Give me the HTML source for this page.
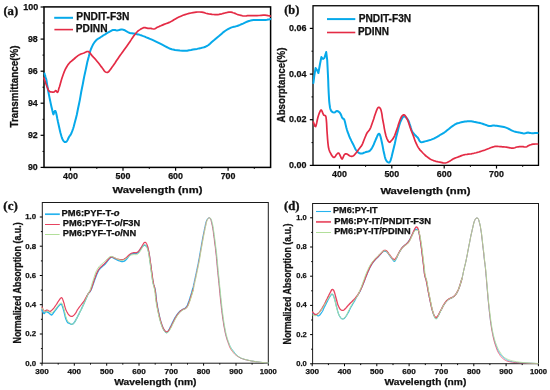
<!DOCTYPE html>
<html><head><meta charset="utf-8"><title>Figure</title>
<style>
html,body{margin:0;padding:0;background:#fff;}
svg{display:block;}
.t{font-family:"Liberation Sans",Arial,sans-serif;font-weight:bold;fill:#111;stroke:#111;stroke-width:0.25px;}
.s{font-family:"Liberation Serif","Times New Roman",serif;font-weight:bold;fill:#111;stroke:#111;stroke-width:0.3px;}
</style></head>
<body>
<svg width="550" height="390" viewBox="0 0 550 390">
<rect x="0" y="0" width="550" height="390" fill="#ffffff"/>
<rect x="44.0" y="6.9" width="226.60000000000002" height="160.5" fill="none" stroke="#000" stroke-width="1.5"/>
<line x1="40.6" y1="167.4" x2="44.0" y2="167.4" stroke="#000" stroke-width="1.2"/><line x1="40.6" y1="135.3" x2="44.0" y2="135.3" stroke="#000" stroke-width="1.2"/><line x1="40.6" y1="103.2" x2="44.0" y2="103.2" stroke="#000" stroke-width="1.2"/><line x1="40.6" y1="71.2" x2="44.0" y2="71.2" stroke="#000" stroke-width="1.2"/><line x1="40.6" y1="39.1" x2="44.0" y2="39.1" stroke="#000" stroke-width="1.2"/><line x1="40.6" y1="7.0" x2="44.0" y2="7.0" stroke="#000" stroke-width="1.2"/>
<line x1="42.5" y1="151.4" x2="44.0" y2="151.4" stroke="#000" stroke-width="1.0"/><line x1="42.5" y1="119.3" x2="44.0" y2="119.3" stroke="#000" stroke-width="1.0"/><line x1="42.5" y1="87.2" x2="44.0" y2="87.2" stroke="#000" stroke-width="1.0"/><line x1="42.5" y1="55.1" x2="44.0" y2="55.1" stroke="#000" stroke-width="1.0"/><line x1="42.5" y1="23.0" x2="44.0" y2="23.0" stroke="#000" stroke-width="1.0"/>
<line x1="70.5" y1="167.4" x2="70.5" y2="170.70000000000002" stroke="#000" stroke-width="1.2"/><line x1="123.0" y1="167.4" x2="123.0" y2="170.70000000000002" stroke="#000" stroke-width="1.2"/><line x1="175.6" y1="167.4" x2="175.6" y2="170.70000000000002" stroke="#000" stroke-width="1.2"/><line x1="228.1" y1="167.4" x2="228.1" y2="170.70000000000002" stroke="#000" stroke-width="1.2"/>
<line x1="96.8" y1="167.4" x2="96.8" y2="168.9" stroke="#000" stroke-width="1.0"/><line x1="149.3" y1="167.4" x2="149.3" y2="168.9" stroke="#000" stroke-width="1.0"/><line x1="201.8" y1="167.4" x2="201.8" y2="168.9" stroke="#000" stroke-width="1.0"/><line x1="254.3" y1="167.4" x2="254.3" y2="168.9" stroke="#000" stroke-width="1.0"/>
<text class="t" x="27.9" y="170.3" font-size="9.2" textLength="9.8" lengthAdjust="spacingAndGlyphs" >90</text>
<text class="t" x="27.9" y="138.2" font-size="9.2" textLength="9.8" lengthAdjust="spacingAndGlyphs" >92</text>
<text class="t" x="27.9" y="106.1" font-size="9.2" textLength="9.8" lengthAdjust="spacingAndGlyphs" >94</text>
<text class="t" x="27.9" y="74.1" font-size="9.2" textLength="9.8" lengthAdjust="spacingAndGlyphs" >96</text>
<text class="t" x="27.9" y="42.0" font-size="9.2" textLength="9.8" lengthAdjust="spacingAndGlyphs" >98</text>
<text class="t" x="23.2" y="9.8" font-size="9.2" textLength="15.0" lengthAdjust="spacingAndGlyphs" >100</text>
<text class="t" x="63.1" y="179.2" font-size="8.8" textLength="14.8" lengthAdjust="spacingAndGlyphs" >400</text>
<text class="t" x="115.6" y="179.2" font-size="8.8" textLength="14.8" lengthAdjust="spacingAndGlyphs" >500</text>
<text class="t" x="168.2" y="179.2" font-size="8.8" textLength="14.8" lengthAdjust="spacingAndGlyphs" >600</text>
<text class="t" x="220.7" y="179.2" font-size="8.8" textLength="14.8" lengthAdjust="spacingAndGlyphs" >700</text>
<text class="t" x="112.5" y="193.3" font-size="9.2" textLength="89.9" lengthAdjust="spacingAndGlyphs" >Wavelength (nm)</text>
<g transform="translate(18.4,127.4) rotate(-90) scale(1,1.15)"><text class="t" x="0" y="0" font-size="9.6" textLength="81.8" lengthAdjust="spacingAndGlyphs">Transmittance(%)</text></g>
<text class="s" x="3.4" y="14.6" font-size="11.6" textLength="14.8" lengthAdjust="spacingAndGlyphs">(a)</text>
<line x1="54.2" y1="17.8" x2="73" y2="17.8" stroke="#06a9ea" stroke-width="2.0"/>
<line x1="54.4" y1="29.6" x2="73" y2="29.6" stroke="#e42b45" stroke-width="1.6"/>
<text class="t" x="76.3" y="20.4" font-size="10" textLength="53.0" lengthAdjust="spacingAndGlyphs" >PNDIT-F3N</text>
<text class="t" x="75.8" y="31.9" font-size="10" textLength="31.7" lengthAdjust="spacingAndGlyphs" >PDINN</text>
<path d="M44.6,73.5 L44.7,74.0 L44.9,74.8 L45.2,75.6 L45.4,76.5 L45.6,77.2 L45.8,77.8 L46.1,78.7 L46.4,80.0 L46.7,82.0 L47.1,84.6 L47.6,87.3 L48.0,90.0 L48.5,92.5 L49.0,95.1 L49.5,97.6 L50.0,100.0 L50.5,102.4 L51.0,104.8 L51.5,107.0 L52.0,109.0 L52.4,110.8 L52.8,112.4 L53.1,113.7 L53.4,114.4 L53.6,114.3 L53.8,113.6 L54.0,112.7 L54.2,112.0 L54.5,111.5 L54.8,111.1 L55.1,110.9 L55.4,111.0 L55.7,111.6 L56.0,112.5 L56.3,113.7 L56.6,115.0 L56.9,116.5 L57.2,118.2 L57.6,120.0 L58.0,122.0 L58.5,124.2 L59.0,126.5 L59.5,128.8 L60.0,131.0 L60.5,133.0 L61.0,134.8 L61.5,136.5 L62.0,138.0 L62.5,139.2 L63.0,140.1 L63.5,140.8 L64.0,141.4 L64.4,141.8 L64.8,142.0 L65.2,142.0 L65.6,142.0 L65.9,141.9 L66.3,141.8 L66.6,141.5 L67.0,141.0 L67.5,140.2 L68.0,139.1 L68.5,138.0 L69.0,137.0 L69.5,136.2 L70.0,135.6 L70.5,134.9 L71.0,134.0 L71.5,133.0 L71.9,132.0 L72.4,130.7 L73.0,129.0 L73.7,126.7 L74.4,124.1 L75.2,121.1 L76.0,118.0 L76.8,114.8 L77.5,111.3 L78.2,107.7 L79.0,104.0 L79.8,100.1 L80.5,96.1 L81.2,92.0 L82.0,88.0 L82.8,84.1 L83.5,80.3 L84.2,76.6 L85.0,73.0 L85.8,69.4 L86.5,66.0 L87.2,62.6 L88.0,59.5 L88.8,56.6 L89.5,53.8 L90.2,51.2 L91.0,49.0 L91.8,47.1 L92.5,45.6 L93.2,44.2 L94.0,43.0 L94.8,41.9 L95.5,41.0 L96.2,40.3 L97.0,39.6 L97.7,39.0 L98.4,38.5 L99.2,38.1 L100.0,37.6 L100.9,37.0 L101.9,36.4 L102.9,35.7 L104.0,35.0 L105.2,34.3 L106.5,33.5 L107.8,32.7 L109.0,32.0 L110.1,31.4 L111.1,30.8 L112.0,30.3 L113.0,30.0 L114.0,30.0 L115.0,30.1 L116.0,30.3 L117.0,30.4 L118.0,30.3 L119.1,30.0 L120.1,29.7 L121.0,29.6 L121.8,29.6 L122.6,29.6 L123.3,29.8 L124.0,30.0 L124.8,30.3 L125.5,30.7 L126.2,31.2 L127.0,31.6 L127.7,32.0 L128.4,32.4 L129.2,32.7 L130.0,33.0 L130.9,33.2 L131.9,33.3 L133.0,33.5 L134.0,33.6 L135.0,33.8 L136.0,34.0 L137.0,34.2 L138.0,34.4 L139.0,34.6 L139.9,34.9 L140.9,35.2 L142.0,35.6 L143.3,36.1 L144.8,36.6 L146.3,37.3 L148.0,38.0 L149.9,38.8 L151.9,39.7 L154.0,40.6 L156.0,41.6 L158.1,42.6 L160.2,43.7 L162.2,44.7 L164.0,45.6 L165.4,46.4 L166.6,47.0 L167.8,47.6 L169.0,48.2 L170.3,48.7 L171.7,49.2 L173.2,49.6 L175.0,50.0 L177.3,50.3 L179.9,50.6 L182.5,50.8 L185.0,50.8 L187.1,50.7 L189.1,50.3 L191.0,50.0 L193.0,49.6 L195.0,49.2 L197.1,48.9 L199.1,48.4 L201.0,48.0 L202.6,47.6 L204.1,47.2 L205.5,46.7 L207.0,46.0 L208.5,45.0 L210.0,43.7 L211.5,42.3 L213.0,41.0 L214.5,39.8 L216.0,38.5 L217.5,37.2 L219.0,36.0 L220.5,34.7 L222.0,33.4 L223.5,32.1 L225.0,31.0 L226.5,30.0 L228.0,29.1 L229.5,28.3 L231.0,27.6 L232.5,27.1 L234.0,26.7 L235.5,26.4 L237.0,26.0 L238.5,25.5 L240.0,24.9 L241.5,24.2 L243.0,23.6 L244.5,22.9 L246.0,22.2 L247.5,21.5 L249.0,21.0 L250.5,20.6 L252.0,20.3 L253.5,20.1 L255.0,20.0 L256.5,19.9 L258.0,19.9 L259.5,20.0 L261.0,20.0 L262.6,20.0 L264.2,20.0 L265.7,19.9 L267.0,19.8 L268.1,19.6 L269.1,19.4 L269.8,19.2 L270.4,19.0" fill="none" stroke="#06a9ea" stroke-width="2.0" stroke-linejoin="round" stroke-linecap="round" />
<path d="M44.0,78.0 L44.4,79.3 L45.0,81.1 L45.7,83.2 L46.4,85.0 L47.0,86.7 L47.7,88.4 L48.3,89.9 L49.0,91.0 L49.7,91.6 L50.3,91.9 L51.0,91.9 L51.6,92.0 L52.2,92.1 L52.9,92.1 L53.4,92.1 L54.0,92.0 L54.5,91.7 L54.9,91.2 L55.4,90.8 L55.8,90.6 L56.3,91.0 L56.7,91.7 L57.2,92.3 L57.6,92.4 L58.0,91.7 L58.4,90.5 L58.7,89.1 L59.0,88.0 L59.3,87.2 L59.5,86.7 L59.7,86.0 L60.0,85.0 L60.4,83.6 L60.9,81.8 L61.4,79.9 L62.0,78.0 L62.7,76.0 L63.4,74.0 L64.2,71.9 L65.0,70.0 L65.9,68.2 L66.9,66.5 L67.9,64.9 L69.0,63.5 L70.2,62.2 L71.5,61.1 L72.8,60.0 L74.0,59.0 L75.1,58.0 L76.1,57.1 L77.1,56.3 L78.0,55.6 L78.8,55.1 L79.6,54.7 L80.3,54.3 L81.0,54.0 L81.8,53.7 L82.5,53.5 L83.2,53.3 L84.0,53.0 L84.8,52.6 L85.6,52.2 L86.3,51.8 L87.0,51.6 L87.5,51.5 L88.0,51.5 L88.5,51.6 L89.0,52.0 L89.7,52.7 L90.4,53.6 L91.2,54.6 L92.0,55.6 L92.9,56.6 L93.9,57.7 L95.0,58.8 L96.0,60.0 L97.0,61.2 L98.1,62.5 L99.1,63.8 L100.0,65.0 L100.8,66.1 L101.6,67.1 L102.3,68.1 L103.0,69.0 L103.6,69.8 L104.0,70.5 L104.5,71.1 L105.0,71.6 L105.6,72.0 L106.3,72.3 L107.0,72.5 L107.6,72.4 L108.2,72.1 L108.7,71.6 L109.3,70.9 L110.0,70.0 L110.9,68.9 L111.8,67.5 L112.9,66.0 L114.0,64.4 L115.2,62.7 L116.4,60.8 L117.7,58.9 L119.0,57.0 L120.2,55.2 L121.5,53.5 L122.8,51.7 L124.0,50.0 L125.3,48.2 L126.6,46.4 L127.8,44.7 L129.0,43.0 L130.1,41.4 L131.1,39.9 L132.0,38.4 L133.0,37.0 L134.0,35.6 L135.1,34.3 L136.1,33.0 L137.0,32.0 L137.8,31.2 L138.5,30.6 L139.2,30.1 L140.0,29.6 L140.9,29.0 L141.9,28.4 L143.0,27.9 L144.0,27.6 L145.0,27.6 L146.1,27.9 L147.1,28.2 L148.0,28.4 L148.8,28.4 L149.6,28.4 L150.3,28.4 L151.0,28.4 L151.7,28.6 L152.4,28.8 L153.2,29.0 L154.0,29.0 L154.9,28.7 L155.8,28.2 L156.8,27.6 L158.0,27.0 L159.3,26.4 L160.8,25.8 L162.4,25.1 L164.0,24.4 L165.7,23.7 L167.5,23.1 L169.3,22.4 L171.0,21.6 L172.5,20.8 L173.9,19.8 L175.4,18.9 L177.0,18.0 L178.9,17.1 L180.9,16.2 L183.0,15.3 L185.0,14.6 L187.0,14.0 L189.1,13.4 L191.1,13.0 L193.0,12.6 L194.7,12.3 L196.2,12.1 L197.7,12.0 L199.0,12.0 L200.1,12.0 L201.0,12.1 L201.9,12.2 L203.0,12.4 L204.4,12.7 L205.9,13.2 L207.5,13.6 L209.0,14.0 L210.5,14.2 L212.1,14.4 L213.6,14.5 L215.0,14.6 L216.1,14.6 L217.0,14.6 L217.9,14.6 L219.0,14.4 L220.4,14.1 L221.9,13.8 L223.5,13.4 L225.0,13.0 L226.3,12.7 L227.6,12.3 L228.8,12.1 L230.0,12.0 L231.1,12.1 L232.1,12.3 L233.0,12.7 L234.0,13.0 L235.0,13.4 L235.9,13.8 L236.9,14.2 L238.0,14.6 L239.4,15.0 L240.9,15.4 L242.5,15.8 L244.0,16.0 L245.2,16.0 L246.4,15.9 L247.6,15.7 L249.0,15.6 L250.8,15.6 L252.8,15.6 L254.9,15.6 L257.0,15.6 L259.1,15.5 L261.2,15.3 L263.2,15.2 L265.0,15.2 L266.7,15.3 L268.2,15.6 L269.5,15.8 L270.4,16.0" fill="none" stroke="#e42b45" stroke-width="1.7" stroke-linejoin="round" stroke-linecap="round" />
<rect x="313.0" y="5.75" width="225.5" height="159.6" fill="none" stroke="#000" stroke-width="1.3"/>
<line x1="309.8" y1="165.4" x2="313.0" y2="165.4" stroke="#000" stroke-width="1.2"/><line x1="309.8" y1="119.7" x2="313.0" y2="119.7" stroke="#000" stroke-width="1.2"/><line x1="309.8" y1="74.1" x2="313.0" y2="74.1" stroke="#000" stroke-width="1.2"/><line x1="309.8" y1="28.4" x2="313.0" y2="28.4" stroke="#000" stroke-width="1.2"/>
<line x1="311.5" y1="142.6" x2="313.0" y2="142.6" stroke="#000" stroke-width="1.0"/><line x1="311.5" y1="96.9" x2="313.0" y2="96.9" stroke="#000" stroke-width="1.0"/><line x1="311.5" y1="51.2" x2="313.0" y2="51.2" stroke="#000" stroke-width="1.0"/>
<line x1="339.5" y1="165.35" x2="339.5" y2="168.54999999999998" stroke="#000" stroke-width="1.2"/><line x1="391.8" y1="165.35" x2="391.8" y2="168.54999999999998" stroke="#000" stroke-width="1.2"/><line x1="444.2" y1="165.35" x2="444.2" y2="168.54999999999998" stroke="#000" stroke-width="1.2"/><line x1="496.5" y1="165.35" x2="496.5" y2="168.54999999999998" stroke="#000" stroke-width="1.2"/>
<line x1="365.6" y1="165.35" x2="365.6" y2="166.85" stroke="#000" stroke-width="1.0"/><line x1="418.0" y1="165.35" x2="418.0" y2="166.85" stroke="#000" stroke-width="1.0"/><line x1="470.4" y1="165.35" x2="470.4" y2="166.85" stroke="#000" stroke-width="1.0"/><line x1="522.7" y1="165.35" x2="522.7" y2="166.85" stroke="#000" stroke-width="1.0"/>
<text class="t" x="289.1" y="168.1" font-size="9.2" textLength="17.4" lengthAdjust="spacingAndGlyphs" >0.00</text>
<text class="t" x="289.1" y="122.4" font-size="9.2" textLength="17.4" lengthAdjust="spacingAndGlyphs" >0.02</text>
<text class="t" x="289.1" y="76.8" font-size="9.2" textLength="17.4" lengthAdjust="spacingAndGlyphs" >0.04</text>
<text class="t" x="289.1" y="31.1" font-size="9.2" textLength="17.4" lengthAdjust="spacingAndGlyphs" >0.06</text>
<text class="t" x="332.1" y="177.4" font-size="8.8" textLength="14.8" lengthAdjust="spacingAndGlyphs" >400</text>
<text class="t" x="384.4" y="177.4" font-size="8.8" textLength="14.8" lengthAdjust="spacingAndGlyphs" >500</text>
<text class="t" x="436.8" y="177.4" font-size="8.8" textLength="14.8" lengthAdjust="spacingAndGlyphs" >600</text>
<text class="t" x="489.1" y="177.4" font-size="8.8" textLength="14.8" lengthAdjust="spacingAndGlyphs" >700</text>
<text class="t" x="380.4" y="193.5" font-size="9.2" textLength="90.0" lengthAdjust="spacingAndGlyphs" >Wavelength (nm)</text>
<g transform="translate(284.9,122.4) rotate(-90) scale(1,1.15)"><text class="t" x="0" y="0" font-size="9.6" textLength="74.8" lengthAdjust="spacingAndGlyphs">Absorptance(%)</text></g>
<text class="s" x="284.2" y="14.3" font-size="11.6" textLength="15.2" lengthAdjust="spacingAndGlyphs">(b)</text>
<line x1="327" y1="19.1" x2="355.3" y2="19.1" stroke="#06a9ea" stroke-width="2.0"/>
<line x1="327" y1="32.5" x2="355.3" y2="32.5" stroke="#e42b45" stroke-width="1.6"/>
<text class="t" x="358.7" y="22.4" font-size="10" textLength="52.5" lengthAdjust="spacingAndGlyphs" >PNDIT-F3N</text>
<text class="t" x="357.9" y="35.3" font-size="10" textLength="31.2" lengthAdjust="spacingAndGlyphs" >PDINN</text>
<path d="M313.4,83.0 L314.4,75.0 L315.6,68.0 L317.0,70.0 L318.4,73.0 L320.0,64.0 L321.4,57.0 L323.0,59.0 L324.4,58.0 L326.2,52.0 L327.2,60.0 L328.0,76.0 L328.0,76.0 L328.2,80.3 L328.4,86.5 L328.7,93.0 L329.0,98.0 L329.2,101.1 L329.4,103.1 L329.6,104.6 L329.8,106.0 L330.0,107.5 L330.3,108.7 L330.6,109.7 L331.0,110.6 L331.6,111.4 L332.4,112.0 L333.2,112.4 L334.0,112.6 L334.8,112.4 L335.5,111.8 L336.2,111.2 L337.0,111.0 L337.8,111.2 L338.5,111.6 L339.3,112.2 L340.0,113.0 L340.7,114.1 L341.3,115.5 L341.8,116.9 L342.4,118.0 L342.9,118.5 L343.4,118.7 L343.9,119.0 L344.4,120.0 L345.0,122.0 L345.6,124.6 L346.3,127.5 L347.0,130.0 L347.7,132.2 L348.5,134.2 L349.2,136.2 L350.0,138.0 L350.8,139.6 L351.5,141.1 L352.2,142.5 L353.0,144.0 L353.8,145.6 L354.5,147.2 L355.2,148.7 L356.0,150.0 L356.8,151.0 L357.5,151.8 L358.2,152.5 L359.0,153.0 L359.7,153.3 L360.4,153.5 L361.2,153.5 L362.0,153.4 L362.9,153.2 L363.9,152.8 L365.0,152.4 L366.0,152.0 L367.0,151.7 L368.1,151.5 L369.1,151.2 L370.0,150.6 L370.8,149.7 L371.6,148.6 L372.3,147.4 L373.0,146.0 L373.8,144.4 L374.5,142.5 L375.3,140.7 L376.0,139.0 L376.7,137.5 L377.3,136.0 L377.9,134.8 L378.4,134.0 L378.8,133.7 L379.2,133.7 L379.6,134.1 L380.0,135.0 L380.5,136.5 L381.0,138.4 L381.5,140.7 L382.0,143.0 L382.5,145.4 L383.0,148.1 L383.5,150.7 L384.0,153.0 L384.5,155.1 L384.9,157.0 L385.4,158.6 L386.0,160.0 L386.7,161.1 L387.5,162.0 L388.3,162.5 L389.0,162.6 L389.5,162.3 L390.0,161.7 L390.5,160.6 L391.0,159.0 L391.7,156.6 L392.4,153.6 L393.2,150.3 L394.0,147.0 L394.8,143.8 L395.5,140.4 L396.2,137.1 L397.0,134.0 L397.8,131.0 L398.5,128.1 L399.2,125.4 L400.0,123.0 L400.8,121.0 L401.6,119.3 L402.3,118.0 L403.0,117.0 L403.5,116.4 L404.0,116.2 L404.5,116.3 L405.0,116.6 L405.7,117.1 L406.5,118.0 L407.3,118.9 L408.0,120.0 L408.6,121.1 L409.1,122.3 L409.5,123.6 L410.0,125.0 L410.5,126.5 L410.9,128.1 L411.4,129.6 L412.0,131.0 L412.7,132.2 L413.4,133.2 L414.2,134.1 L415.0,135.0 L415.8,135.8 L416.5,136.5 L417.3,137.2 L418.0,138.0 L418.6,139.0 L419.2,140.2 L419.8,141.3 L420.6,142.0 L421.6,142.2 L422.7,142.0 L423.8,141.7 L425.0,141.4 L426.2,141.1 L427.5,140.8 L428.7,140.4 L430.0,140.0 L431.2,139.6 L432.5,139.1 L433.8,138.6 L435.0,138.0 L436.2,137.3 L437.5,136.6 L438.8,135.8 L440.0,135.0 L441.2,134.3 L442.5,133.6 L443.8,132.8 L445.0,132.0 L446.2,131.1 L447.5,130.0 L448.8,129.0 L450.0,128.0 L451.2,127.0 L452.5,126.1 L453.8,125.2 L455.0,124.4 L456.2,123.8 L457.5,123.3 L458.8,123.0 L460.0,122.6 L461.2,122.3 L462.5,122.0 L463.8,121.8 L465.0,121.6 L466.2,121.4 L467.5,121.3 L468.8,121.2 L470.0,121.2 L471.2,121.3 L472.5,121.5 L473.8,121.8 L475.0,122.0 L476.2,122.2 L477.5,122.5 L478.8,122.7 L480.0,123.0 L481.3,123.4 L482.6,123.8 L483.8,124.2 L485.0,124.6 L486.1,125.0 L487.1,125.4 L488.0,125.8 L489.0,126.0 L490.0,126.0 L490.9,125.9 L491.9,125.7 L493.0,125.6 L494.2,125.6 L495.4,125.7 L496.7,125.8 L498.0,126.0 L499.5,126.2 L501.0,126.4 L502.5,126.7 L504.0,127.0 L505.3,127.4 L506.6,127.9 L507.8,128.4 L509.0,129.0 L510.2,129.6 L511.5,130.3 L512.8,130.9 L514.0,131.4 L515.2,131.7 L516.5,132.0 L517.8,132.2 L519.0,132.4 L520.3,132.7 L521.6,133.0 L522.8,133.3 L524.0,133.4 L525.1,133.3 L526.1,133.0 L527.0,132.7 L528.0,132.6 L529.0,132.7 L529.9,132.9 L530.9,133.1 L532.0,133.2 L533.4,133.2 L535.0,133.1 L536.6,133.1 L537.6,133.0" fill="none" stroke="#06a9ea" stroke-width="2.0" stroke-linejoin="round" stroke-linecap="round" />
<path d="M313.4,122.0 L313.8,123.2 L314.4,124.9 L315.0,126.3 L315.6,126.6 L316.2,125.1 L316.8,122.5 L317.4,119.5 L318.0,117.0 L318.7,114.8 L319.5,112.6 L320.3,110.8 L321.0,110.0 L321.7,110.5 L322.3,111.9 L323.0,113.7 L323.6,115.0 L324.2,115.4 L324.9,115.4 L325.5,115.7 L326.0,117.0 L326.3,119.6 L326.6,123.1 L326.8,127.1 L327.0,131.0 L327.3,135.1 L327.6,139.4 L328.0,143.6 L328.4,147.0 L329.0,149.5 L329.6,151.3 L330.3,152.7 L331.0,154.0 L331.7,155.3 L332.5,156.4 L333.2,157.1 L334.0,157.4 L334.8,157.0 L335.6,155.9 L336.3,154.8 L337.0,154.0 L337.5,153.5 L338.0,153.1 L338.5,153.0 L339.0,153.4 L339.7,154.6 L340.5,156.4 L341.3,158.2 L342.0,159.0 L342.6,158.5 L343.2,157.2 L343.8,155.7 L344.4,154.6 L345.0,154.1 L345.7,153.9 L346.3,153.9 L347.0,154.0 L347.7,154.4 L348.5,155.0 L349.2,155.6 L350.0,156.0 L350.8,156.2 L351.5,156.3 L352.2,156.3 L353.0,156.0 L353.8,155.5 L354.5,154.8 L355.2,153.9 L356.0,153.0 L356.8,152.1 L357.5,151.1 L358.2,150.0 L359.0,149.0 L359.8,148.0 L360.5,147.1 L361.3,146.1 L362.0,145.0 L362.6,143.6 L363.2,142.1 L363.8,140.5 L364.4,139.0 L365.0,137.5 L365.7,135.9 L366.3,134.4 L367.0,133.0 L367.7,132.0 L368.5,131.1 L369.2,130.2 L370.0,129.0 L370.8,127.3 L371.5,125.3 L372.2,123.2 L373.0,121.0 L373.8,118.7 L374.5,116.3 L375.3,114.0 L376.0,112.0 L376.6,110.4 L377.2,109.0 L377.8,107.9 L378.4,107.4 L379.0,107.3 L379.7,107.7 L380.4,108.6 L381.0,110.0 L381.5,112.1 L382.0,114.7 L382.4,117.8 L383.0,121.0 L383.7,124.7 L384.4,128.8 L385.2,132.8 L386.0,136.0 L386.8,138.3 L387.6,140.0 L388.3,141.2 L389.0,142.0 L389.5,142.3 L390.0,142.1 L390.5,141.6 L391.0,141.0 L391.7,140.3 L392.4,139.4 L393.2,138.4 L394.0,137.0 L394.8,135.3 L395.5,133.3 L396.2,131.2 L397.0,129.0 L397.8,126.7 L398.5,124.3 L399.3,122.0 L400.0,120.0 L400.6,118.5 L401.2,117.3 L401.8,116.3 L402.4,115.6 L403.0,115.1 L403.7,114.9 L404.3,114.9 L405.0,115.4 L405.7,116.4 L406.5,117.8 L407.3,119.4 L408.0,121.0 L408.5,122.4 L409.0,123.8 L409.5,125.4 L410.0,127.0 L410.7,128.9 L411.4,130.9 L412.2,133.0 L413.0,135.0 L413.8,137.1 L414.5,139.2 L415.2,141.2 L416.0,143.0 L416.8,144.6 L417.5,146.1 L418.2,147.4 L419.0,148.6 L419.7,149.6 L420.4,150.4 L421.2,151.2 L422.0,152.0 L422.9,153.0 L423.9,154.0 L424.9,155.0 L426.0,156.0 L427.2,156.9 L428.4,157.8 L429.7,158.7 L431.0,159.4 L432.2,160.0 L433.5,160.6 L434.8,161.0 L436.0,161.4 L437.3,161.7 L438.6,162.0 L439.8,162.2 L441.0,162.4 L442.1,162.6 L443.1,162.9 L444.0,163.0 L445.0,163.0 L446.0,162.8 L447.0,162.5 L448.0,162.1 L449.0,161.6 L450.0,161.0 L450.9,160.4 L451.9,159.7 L453.0,159.0 L454.4,158.4 L455.9,157.8 L457.5,157.2 L459.0,156.6 L460.3,156.1 L461.5,155.6 L462.7,155.2 L464.0,154.8 L465.5,154.5 L467.0,154.4 L468.5,154.2 L470.0,154.0 L471.3,153.8 L472.6,153.5 L473.8,153.3 L475.0,153.0 L476.2,152.7 L477.5,152.3 L478.8,152.0 L480.0,151.6 L481.2,151.2 L482.5,150.8 L483.8,150.4 L485.0,150.0 L486.2,149.5 L487.5,149.0 L488.8,148.5 L490.0,148.0 L491.2,147.5 L492.5,147.1 L493.8,146.7 L495.0,146.4 L496.2,146.3 L497.5,146.4 L498.8,146.5 L500.0,146.6 L501.2,146.7 L502.5,146.8 L503.8,146.9 L505.0,147.0 L506.3,147.2 L507.6,147.4 L508.9,147.6 L510.0,147.8 L510.9,148.0 L511.6,148.1 L512.2,148.2 L513.0,148.2 L513.9,148.0 L514.9,147.7 L515.9,147.3 L517.0,147.0 L518.2,146.8 L519.5,146.7 L520.8,146.6 L522.0,146.6 L523.1,146.7 L524.1,146.9 L525.1,147.0 L526.0,147.0 L526.8,146.7 L527.5,146.3 L528.2,145.8 L529.0,145.4 L529.9,145.0 L530.9,144.7 L531.9,144.4 L533.0,144.2 L534.2,144.1 L535.5,144.0 L536.8,144.0 L537.6,144.0" fill="none" stroke="#e42b45" stroke-width="1.7" stroke-linejoin="round" stroke-linecap="round" />
<rect x="42.3" y="202.5" width="226.0" height="160.7" fill="none" stroke="#1a1a1a" stroke-width="1.0"/>
<line x1="39.8" y1="363.2" x2="42.3" y2="363.2" stroke="#000" stroke-width="1.0"/><line x1="39.8" y1="334.0" x2="42.3" y2="334.0" stroke="#000" stroke-width="1.0"/><line x1="39.8" y1="304.7" x2="42.3" y2="304.7" stroke="#000" stroke-width="1.0"/><line x1="39.8" y1="275.5" x2="42.3" y2="275.5" stroke="#000" stroke-width="1.0"/><line x1="39.8" y1="246.2" x2="42.3" y2="246.2" stroke="#000" stroke-width="1.0"/><line x1="39.8" y1="217.0" x2="42.3" y2="217.0" stroke="#000" stroke-width="1.0"/>
<line x1="40.9" y1="348.6" x2="42.3" y2="348.6" stroke="#000" stroke-width="1.0"/><line x1="40.9" y1="319.3" x2="42.3" y2="319.3" stroke="#000" stroke-width="1.0"/><line x1="40.9" y1="290.1" x2="42.3" y2="290.1" stroke="#000" stroke-width="1.0"/><line x1="40.9" y1="260.9" x2="42.3" y2="260.9" stroke="#000" stroke-width="1.0"/><line x1="40.9" y1="231.6" x2="42.3" y2="231.6" stroke="#000" stroke-width="1.0"/>
<line x1="42.0" y1="363.2" x2="42.0" y2="365.7" stroke="#000" stroke-width="1.0"/><line x1="74.3" y1="363.2" x2="74.3" y2="365.7" stroke="#000" stroke-width="1.0"/><line x1="106.7" y1="363.2" x2="106.7" y2="365.7" stroke="#000" stroke-width="1.0"/><line x1="139.0" y1="363.2" x2="139.0" y2="365.7" stroke="#000" stroke-width="1.0"/><line x1="171.3" y1="363.2" x2="171.3" y2="365.7" stroke="#000" stroke-width="1.0"/><line x1="203.6" y1="363.2" x2="203.6" y2="365.7" stroke="#000" stroke-width="1.0"/><line x1="236.0" y1="363.2" x2="236.0" y2="365.7" stroke="#000" stroke-width="1.0"/><line x1="268.3" y1="363.2" x2="268.3" y2="365.7" stroke="#000" stroke-width="1.0"/>
<line x1="58.2" y1="363.2" x2="58.2" y2="364.59999999999997" stroke="#000" stroke-width="1.0"/><line x1="90.5" y1="363.2" x2="90.5" y2="364.59999999999997" stroke="#000" stroke-width="1.0"/><line x1="122.8" y1="363.2" x2="122.8" y2="364.59999999999997" stroke="#000" stroke-width="1.0"/><line x1="155.2" y1="363.2" x2="155.2" y2="364.59999999999997" stroke="#000" stroke-width="1.0"/><line x1="187.5" y1="363.2" x2="187.5" y2="364.59999999999997" stroke="#000" stroke-width="1.0"/><line x1="219.8" y1="363.2" x2="219.8" y2="364.59999999999997" stroke="#000" stroke-width="1.0"/><line x1="252.1" y1="363.2" x2="252.1" y2="364.59999999999997" stroke="#000" stroke-width="1.0"/>
<text class="t" x="25.2" y="365.6" font-size="8.1" textLength="10.9" lengthAdjust="spacingAndGlyphs" >0.0</text>
<text class="t" x="25.2" y="336.4" font-size="8.1" textLength="10.9" lengthAdjust="spacingAndGlyphs" >0.2</text>
<text class="t" x="25.2" y="307.1" font-size="8.1" textLength="10.9" lengthAdjust="spacingAndGlyphs" >0.4</text>
<text class="t" x="25.2" y="277.9" font-size="8.1" textLength="10.9" lengthAdjust="spacingAndGlyphs" >0.6</text>
<text class="t" x="25.2" y="248.6" font-size="8.1" textLength="10.9" lengthAdjust="spacingAndGlyphs" >0.8</text>
<text class="t" x="25.2" y="219.4" font-size="8.1" textLength="10.9" lengthAdjust="spacingAndGlyphs" >1.0</text>
<text class="t" x="35.2" y="373.8" font-size="8.0" textLength="13.6" lengthAdjust="spacingAndGlyphs" >300</text>
<text class="t" x="67.5" y="373.8" font-size="8.0" textLength="13.6" lengthAdjust="spacingAndGlyphs" >400</text>
<text class="t" x="99.9" y="373.8" font-size="8.0" textLength="13.6" lengthAdjust="spacingAndGlyphs" >500</text>
<text class="t" x="132.2" y="373.8" font-size="8.0" textLength="13.6" lengthAdjust="spacingAndGlyphs" >600</text>
<text class="t" x="164.5" y="373.8" font-size="8.0" textLength="13.6" lengthAdjust="spacingAndGlyphs" >700</text>
<text class="t" x="196.8" y="373.8" font-size="8.0" textLength="13.6" lengthAdjust="spacingAndGlyphs" >800</text>
<text class="t" x="229.2" y="373.8" font-size="8.0" textLength="13.6" lengthAdjust="spacingAndGlyphs" >900</text>
<text class="t" x="259.8" y="373.8" font-size="8.0" textLength="17.0" lengthAdjust="spacingAndGlyphs" >1000</text>
<text class="t" x="114.3" y="384.8" font-size="9.1" textLength="82.1" lengthAdjust="spacingAndGlyphs" >Wavelength (nm)</text>
<g transform="translate(20.6,343.5) rotate(-90) scale(1,1.14)"><text class="t" x="0" y="0" font-size="8.9" textLength="121.2" lengthAdjust="spacingAndGlyphs">Normalized Absorption (a.u.)</text></g>
<text class="s" x="3.3" y="209.7" font-size="11.6" textLength="14.5" lengthAdjust="spacingAndGlyphs">(c)</text>
<line x1="45" y1="214.2" x2="59.8" y2="214.2" stroke="#27b3ee" stroke-width="1.7"/>
<line x1="45" y1="224.5" x2="59.8" y2="224.5" stroke="#e74460" stroke-width="1"/>
<line x1="45" y1="234.5" x2="59.6" y2="234.5" stroke="#b2df9a" stroke-width="1"/>
<text class="t" x="61.6" y="215.9" font-size="8.2" textLength="58.0" lengthAdjust="spacingAndGlyphs" >PM6:PYF-T-<tspan font-style="italic">o</tspan></text>
<text class="t" x="62.8" y="226.1" font-size="8.2" textLength="77.4" lengthAdjust="spacingAndGlyphs" >PM6:PYF-T-<tspan font-style="italic">o</tspan>/F3N</text>
<text class="t" x="62.8" y="235.9" font-size="8.2" textLength="73.4" lengthAdjust="spacingAndGlyphs" >PM6:PYF-T-<tspan font-style="italic">o</tspan>/NN</text>
<path d="M42.0,310.0 L42.4,310.8 L42.9,311.9 L43.5,313.0 L44.0,313.6 L44.5,313.4 L44.9,312.7 L45.4,312.0 L46.0,311.6 L46.7,311.7 L47.5,312.1 L48.3,312.5 L49.0,313.0 L49.7,313.6 L50.3,314.3 L51.0,314.8 L51.6,315.0 L52.2,314.6 L52.8,313.9 L53.4,312.9 L54.0,312.0 L54.7,311.0 L55.5,310.0 L56.3,309.0 L57.0,308.0 L57.7,307.1 L58.4,306.3 L59.0,305.6 L59.6,305.0 L60.1,304.5 L60.6,304.2 L61.1,304.1 L61.6,304.4 L62.1,305.3 L62.6,306.7 L63.1,308.3 L63.6,310.0 L64.1,311.9 L64.6,314.1 L65.1,316.2 L65.6,318.0 L66.1,319.4 L66.6,320.6 L67.1,321.6 L67.6,322.4 L68.2,322.9 L68.8,323.2 L69.4,323.4 L70.0,323.6 L70.5,323.9 L71.0,324.2 L71.5,324.4 L72.0,324.4 L72.6,324.1 L73.2,323.6 L73.9,322.9 L74.6,322.0 L75.3,321.0 L76.0,319.7 L76.7,318.4 L77.4,317.0 L78.1,315.6 L78.9,314.1 L79.6,312.5 L80.4,311.0 L81.2,309.5 L81.9,307.9 L82.7,306.3 L83.4,304.8 L84.1,303.3 L84.7,301.7 L85.4,300.2 L86.0,298.8 L86.6,297.4 L87.1,296.1 L87.7,294.8 L88.3,293.6 L88.9,292.7 L89.6,292.0 L90.3,291.2 L91.0,290.0 L91.7,288.3 L92.4,286.3 L93.2,284.1 L93.9,282.0 L94.6,280.0 L95.4,277.9 L96.1,275.9 L96.8,274.2 L97.5,272.7 L98.1,271.4 L98.8,270.2 L99.5,269.2 L100.2,268.3 L101.0,267.6 L101.8,267.0 L102.5,266.3 L103.2,265.7 L104.0,265.1 L104.7,264.4 L105.4,263.7 L106.1,262.8 L106.9,261.9 L107.6,260.9 L108.3,260.0 L109.0,259.1 L109.8,258.3 L110.5,257.6 L111.2,257.2 L111.9,257.2 L112.6,257.4 L113.3,257.9 L114.1,258.3 L115.1,258.8 L116.2,259.4 L117.4,260.0 L118.5,260.5 L119.6,260.9 L120.7,261.2 L121.8,261.5 L122.8,261.5 L123.6,261.4 L124.3,261.1 L125.0,260.7 L125.7,260.0 L126.6,259.0 L127.6,257.7 L128.6,256.4 L129.4,255.4 L130.0,254.8 L130.5,254.4 L131.0,254.2 L131.5,254.0 L132.0,253.8 L132.6,253.6 L133.1,253.5 L133.7,253.4 L134.2,253.4 L134.8,253.4 L135.3,253.5 L135.9,253.4 L136.5,253.3 L137.0,253.1 L137.6,252.8 L138.1,252.4 L138.7,251.8 L139.2,251.0 L139.8,250.2 L140.3,249.4 L140.9,248.6 L141.4,247.8 L142.0,247.0 L142.5,246.4 L143.0,246.0 L143.5,245.6 L143.9,245.4 L144.3,245.3 L144.7,245.3 L145.0,245.3 L145.3,245.4 L145.6,245.6 L146.0,245.8 L146.4,246.0 L146.8,246.3 L147.2,247.0 L147.6,248.0 L148.0,249.2 L148.4,250.7 L148.8,252.5 L149.2,254.7 L149.6,257.3 L149.9,260.0 L150.3,262.6 L150.7,265.1 L151.0,267.7 L151.3,270.2 L151.7,272.8 L152.1,275.4 L152.4,278.1 L152.8,280.7 L153.2,283.0 L153.7,284.9 L154.2,286.4 L154.7,288.0 L155.2,290.0 L155.6,292.6 L155.9,295.5 L156.2,298.6 L156.6,301.7 L157.1,304.7 L157.6,307.7 L158.2,310.7 L158.8,313.4 L159.3,315.9 L159.8,318.2 L160.4,320.3 L160.9,322.2 L161.5,324.0 L162.0,325.6 L162.6,327.1 L163.1,328.4 L163.7,329.4 L164.2,330.3 L164.8,331.1 L165.3,331.6 L165.6,332.1 L166.0,332.4 L166.3,332.5 L166.6,332.5 L167.0,332.4 L167.4,332.1 L167.8,331.7 L168.3,331.1 L168.8,330.2 L169.4,329.1 L170.0,327.9 L170.6,326.6 L171.3,325.2 L172.0,323.7 L172.8,322.1 L173.5,320.7 L174.2,319.3 L174.9,318.0 L175.7,316.8 L176.4,315.6 L177.1,314.6 L177.9,313.6 L178.6,312.7 L179.3,311.9 L180.0,311.2 L180.8,310.7 L181.5,310.2 L182.2,309.7 L182.9,309.3 L183.7,309.0 L184.4,308.7 L185.1,308.3 L185.6,307.8 L186.1,307.3 L186.6,306.8 L187.0,306.0 L187.5,305.1 L187.9,304.1 L188.3,302.9 L188.8,301.6 L189.3,300.3 L189.8,298.8 L190.2,297.3 L190.7,295.8 L191.1,294.4 L191.6,292.9 L192.0,291.5 L192.4,290.0 L192.8,288.5" fill="none" stroke="#27b3ee" stroke-width="1.4" stroke-linejoin="round" stroke-linecap="round" />
<path d="M192.4,290.0 L192.8,288.5 L193.1,287.0 L193.4,285.5 L193.7,284.0 L194.0,282.6 L194.3,281.2 L194.6,279.8 L195.0,278.0 L195.5,275.7 L196.1,273.1 L196.6,270.5 L197.1,268.0 L197.6,265.9 L198.0,264.0 L198.3,262.1 L198.7,260.0 L199.2,257.6 L199.6,255.0 L200.0,252.4 L200.5,250.0 L200.8,247.9 L201.2,245.9 L201.5,244.0 L201.9,242.0 L202.2,240.0 L202.6,238.0 L203.0,235.9 L203.4,234.0 L203.8,232.1 L204.1,230.3 L204.5,228.5 L204.9,226.8 L205.2,225.2 L205.6,223.6 L205.9,222.2 L206.3,221.0 L206.7,220.1 L207.1,219.4 L207.5,218.8 L207.9,218.4 L208.2,218.1 L208.6,217.9 L208.9,217.8 L209.3,217.8 L209.7,217.9 L210.0,218.0 L210.4,218.3 L210.7,218.8 L211.0,219.5 L211.3,220.4 L211.5,221.4 L211.8,222.5 L212.1,223.8 L212.4,225.1 L212.7,226.6 L213.0,228.3 L213.3,230.2 L213.6,232.2 L213.8,234.3 L214.1,236.3 L214.4,238.2 L214.6,240.1 L214.8,242.0 L215.1,244.0 L215.4,246.2 L215.7,248.5 L216.0,250.9 L216.2,253.0 L216.4,254.9 L216.6,256.6 L216.7,258.2 L216.9,260.0 L217.1,261.9 L217.2,263.8 L217.4,265.8 L217.6,268.0 L217.8,270.3 L218.1,272.8 L218.3,275.3 L218.6,278.0 L218.9,280.8 L219.2,283.7 L219.5,286.8 L219.8,290.0 L220.2,293.5 L220.5,297.3 L220.9,301.0 L221.3,304.5 L221.6,307.6 L222.0,310.5 L222.3,313.3 L222.7,316.2 L223.1,319.2 L223.6,322.2 L224.0,325.1 L224.5,327.8 L225.0,330.2 L225.4,332.5 L225.9,334.6 L226.4,336.5 L226.9,338.3 L227.5,340.0 L228.0,341.5 L228.6,342.9 L229.1,344.2 L229.7,345.4 L230.2,346.5 L230.8,347.5 L231.4,348.5 L232.1,349.4 L232.8,350.3 L233.5,351.2 L234.2,352.1 L234.8,353.0 L235.5,353.9 L236.2,354.7 L237.1,355.5 L238.0,356.3 L239.0,357.0 L240.0,357.6 L240.9,358.1 L241.9,358.5 L242.9,358.8 L244.0,359.2 L245.3,359.6 L246.8,359.9 L248.3,360.3 L250.0,360.6 L251.8,361.0 L253.8,361.3 L255.8,361.7 L258.0,362.0 L260.6,362.3 L263.5,362.6 L266.2,362.8 L268.0,363.0" fill="none" stroke="#27b3ee" stroke-width="1.0" stroke-linejoin="round" stroke-linecap="round" stroke-opacity="0.85"/>
<path d="M42.0,307.0 L42.3,307.8 L42.8,309.1 L43.4,310.3 L44.0,311.0 L44.7,311.0 L45.4,310.7 L46.2,310.2 L47.0,310.0 L47.8,310.3 L48.5,310.8 L49.2,311.3 L50.0,311.4 L50.8,311.1 L51.5,310.5 L52.2,309.8 L53.0,309.0 L53.8,308.1 L54.5,307.1 L55.2,306.1 L56.0,305.0 L56.8,303.9 L57.5,302.6 L58.3,301.4 L59.0,300.4 L59.7,299.4 L60.4,298.4 L61.0,297.8 L61.6,297.6 L62.1,298.1 L62.6,299.1 L63.1,300.5 L63.6,302.0 L64.2,303.8 L64.7,306.0 L65.3,308.1 L66.0,310.0 L66.7,311.5 L67.5,312.9 L68.2,314.1 L69.0,315.0 L69.8,315.7 L70.5,316.2 L71.2,316.4 L72.0,316.4 L72.8,316.1 L73.5,315.6 L74.2,314.9 L75.0,314.0 L75.8,312.9 L76.5,311.6 L77.2,310.2 L78.0,309.0 L78.8,307.9 L79.5,306.9 L80.2,306.0 L81.0,305.0 L81.7,304.1 L82.4,303.2 L83.2,302.2 L84.0,301.0 L85.0,299.4 L86.0,297.5 L87.1,295.6 L88.0,294.0 L88.8,292.9 L89.5,292.1 L90.1,291.2 L90.8,290.0 L91.5,288.2 L92.2,286.0 L93.0,283.7 L93.7,281.5 L94.4,279.4 L95.2,277.3 L95.9,275.3 L96.6,273.5 L97.3,272.0 L98.0,270.7 L98.8,269.5 L99.5,268.5 L100.2,267.6 L101.0,266.9 L101.8,266.2 L102.5,265.5 L103.2,264.8 L104.0,264.1 L104.7,263.3 L105.4,262.6 L106.1,261.8 L106.9,261.0 L107.6,260.2 L108.3,259.4 L109.0,258.6 L109.8,257.8 L110.5,257.2 L111.2,256.8 L111.9,256.8 L112.7,257.1 L113.4,257.5 L114.1,257.8 L114.8,258.1 L115.5,258.4 L116.2,258.7 L117.0,259.0 L117.9,259.2 L118.8,259.4 L119.7,259.6 L120.6,259.7 L121.4,259.7 L122.1,259.7 L122.8,259.6 L123.5,259.4 L124.2,259.1 L125.0,258.6 L125.8,258.1 L126.5,257.5 L127.3,256.8 L128.0,256.0 L128.7,255.2 L129.4,254.6 L130.0,254.1 L130.5,253.7 L131.0,253.5 L131.5,253.2 L132.0,253.0 L132.6,252.9 L133.1,252.8 L133.7,252.7 L134.2,252.7 L134.8,252.7 L135.3,252.8 L135.9,252.7 L136.5,252.6 L137.0,252.4 L137.6,252.1 L138.1,251.7 L138.7,251.1 L139.2,250.4 L139.8,249.6 L140.3,248.8 L140.9,247.9 L141.5,247.0 L142.0,246.0 L142.5,245.2 L142.9,244.5 L143.3,243.9 L143.6,243.4 L143.9,243.0 L144.2,242.7 L144.4,242.5 L144.6,242.3 L144.9,242.3 L145.2,242.3 L145.5,242.4 L145.8,242.6 L146.1,243.0 L146.4,243.5 L146.8,244.1 L147.1,244.9 L147.5,245.9 L147.9,247.2 L148.2,248.8 L148.6,250.5 L149.0,252.5 L149.4,254.8 L149.8,257.3 L150.1,260.0 L150.5,262.6 L150.9,265.1 L151.2,267.7 L151.5,270.2 L151.9,272.8 L152.3,275.4 L152.6,278.1 L153.0,280.7 L153.4,283.0 L153.8,284.9 L154.3,286.4 L154.7,288.0 L155.1,290.0 L155.5,292.6 L155.8,295.5 L156.1,298.6 L156.5,301.6 L157.0,304.6 L157.5,307.6 L158.1,310.6 L158.7,313.3 L159.2,315.7 L159.8,318.0 L160.3,320.1 L160.9,322.0 L161.5,323.8 L162.0,325.4 L162.6,326.8 L163.1,328.1 L163.7,329.1 L164.2,330.0 L164.8,330.7 L165.3,331.2 L165.7,331.6 L166.0,331.8 L166.3,331.9 L166.7,331.9 L167.1,331.8 L167.6,331.6 L168.1,331.3 L168.6,330.7 L169.2,329.9 L169.8,328.8 L170.4,327.7 L171.1,326.4 L171.8,325.0 L172.5,323.5 L173.3,321.9 L174.0,320.5 L174.7,319.2 L175.4,317.9 L176.2,316.6 L176.9,315.5 L177.6,314.4 L178.4,313.5 L179.1,312.6 L179.8,311.8 L180.5,311.1 L181.2,310.6 L182.0,310.1 L182.7,309.6 L183.4,309.2 L184.2,308.9 L184.9,308.6 L185.6,308.2 L186.1,307.8 L186.6,307.3 L187.1,306.7 L187.5,306.0 L188.0,305.1 L188.4,304.0 L188.8,302.9 L189.3,301.6 L189.8,300.2 L190.3,298.8 L190.7,297.3 L191.2,295.8 L191.6,294.4 L192.1,292.9 L192.5,291.5 L192.9,290.0" fill="none" stroke="#e74460" stroke-width="1.2" stroke-linejoin="round" stroke-linecap="round" />
<path d="M192.5,291.5 L192.9,290.0 L193.3,288.5 L193.6,287.0 L193.9,285.5 L194.2,284.0 L194.5,282.6 L194.8,281.2 L195.1,279.8 L195.5,278.0 L196.0,275.7 L196.5,273.1 L197.1,270.5 L197.6,268.0 L198.0,265.9 L198.4,264.0 L198.8,262.1 L199.2,260.0 L199.6,257.6 L200.1,255.0 L200.5,252.4 L200.9,250.0 L201.3,247.9 L201.6,245.9 L201.9,244.0 L202.3,242.0 L202.7,240.0 L203.0,238.0 L203.4,235.9 L203.8,234.0 L204.2,232.1 L204.6,230.3 L204.9,228.5 L205.3,226.8 L205.7,225.2 L206.0,223.6 L206.3,222.2 L206.7,221.0 L207.1,220.1 L207.5,219.4 L207.9,218.8 L208.2,218.4 L208.5,218.1 L208.8,217.9 L209.0,217.8 L209.3,217.8 L209.6,217.9 L209.9,218.0 L210.2,218.3 L210.5,218.8 L210.7,219.5 L211.0,220.4 L211.2,221.4 L211.5,222.5 L211.8,223.8 L212.1,225.1 L212.4,226.6 L212.7,228.3 L213.0,230.2 L213.3,232.2 L213.5,234.3 L213.8,236.3 L214.1,238.2 L214.3,240.1 L214.5,242.0 L214.8,244.0 L215.1,246.2 L215.4,248.5 L215.6,250.9 L215.9,253.0 L216.1,254.9 L216.3,256.6 L216.4,258.2 L216.6,260.0 L216.8,261.9 L216.9,263.8 L217.1,265.8 L217.3,268.0 L217.5,270.3 L217.8,272.8 L218.0,275.3 L218.3,278.0 L218.6,280.8 L218.9,283.7 L219.2,286.8 L219.5,290.0 L219.8,293.5 L220.2,297.3 L220.6,301.0 L221.0,304.5 L221.3,307.6 L221.7,310.5 L222.0,313.3 L222.4,316.2 L222.8,319.2 L223.3,322.2 L223.7,325.1 L224.2,327.8 L224.7,330.2 L225.1,332.5 L225.6,334.5 L226.1,336.5 L226.6,338.3 L227.1,340.0 L227.7,341.5 L228.2,343.0 L228.7,344.4 L229.1,345.7 L229.6,346.9 L230.1,348.0 L230.7,349.0 L231.3,350.0 L232.0,350.9 L232.7,351.8 L233.4,352.7 L234.1,353.5 L234.8,354.3 L235.7,355.0 L236.6,355.7 L237.6,356.4 L238.7,357.0 L239.7,357.6 L240.6,358.1 L241.5,358.5 L242.5,358.8 L243.7,359.2 L245.0,359.6 L246.4,359.9 L248.0,360.3 L249.7,360.6 L251.5,361.0 L253.4,361.3 L255.5,361.7 L257.7,362.0 L260.3,362.3 L263.2,362.6 L265.8,362.8 L267.7,363.0" fill="none" stroke="#e74460" stroke-width="0.85" stroke-linejoin="round" stroke-linecap="round" stroke-opacity="0.85"/>
<path d="M42.0,308.0 L42.5,308.8 L43.3,310.1 L44.2,311.3 L45.0,312.0 L45.8,312.0 L46.5,311.6 L47.2,311.2 L48.0,311.0 L48.8,311.4 L49.5,312.1 L50.2,312.7 L51.0,313.0 L51.8,312.8 L52.5,312.4 L53.2,311.7 L54.0,311.0 L54.8,310.1 L55.5,309.1 L56.2,308.0 L57.0,307.0 L57.8,306.0 L58.6,305.1 L59.3,304.2 L60.0,303.6 L60.5,303.1 L60.9,302.8 L61.2,302.7 L61.6,303.0 L62.1,303.8 L62.5,304.9 L63.1,306.3 L63.6,308.0 L64.2,310.1 L64.8,312.5 L65.4,315.0 L66.0,317.0 L66.5,318.5 L67.0,319.8 L67.5,320.8 L68.0,321.6 L68.5,322.2 L69.0,322.5 L69.5,322.7 L70.0,323.0 L70.6,323.4 L71.2,324.0 L71.8,324.3 L72.4,324.4 L73.0,324.1 L73.7,323.4 L74.3,322.6 L75.0,321.6 L75.7,320.4 L76.5,319.0 L77.2,317.5 L78.0,316.0 L78.8,314.5 L79.5,313.1 L80.2,311.5 L81.0,310.0 L81.8,308.4 L82.5,306.8 L83.3,305.2 L84.0,303.6 L84.6,302.1 L85.3,300.7 L85.8,299.3 L86.4,298.0 L87.0,296.7 L87.5,295.3 L88.0,294.1 L88.5,293.0 L88.9,292.3 L89.2,291.8 L89.6,291.1 L90.1,290.0 L90.7,288.1 L91.5,285.8 L92.2,283.2 L93.0,280.8 L93.7,278.5 L94.5,276.2 L95.2,274.0 L95.9,272.1 L96.6,270.5 L97.4,269.2 L98.1,268.0 L98.8,267.0 L99.5,266.1 L100.2,265.4 L101.0,264.7 L101.7,264.1 L102.4,263.5 L103.2,262.9 L103.9,262.2 L104.6,261.6 L105.3,260.9 L106.0,260.1 L106.8,259.4 L107.5,258.7 L108.2,258.0 L109.0,257.4 L109.8,256.8 L110.5,256.5 L111.2,256.4 L112.0,256.6 L112.7,256.8 L113.4,257.1 L114.1,257.4 L114.8,257.8 L115.5,258.2 L116.3,258.6 L117.2,259.0 L118.1,259.4 L119.0,259.8 L119.9,260.0 L120.8,260.1 L121.7,260.2 L122.6,260.2 L123.5,260.0 L124.3,259.7 L125.0,259.3 L125.8,258.8 L126.5,258.3 L127.3,257.8 L128.0,257.2 L128.7,256.6 L129.4,256.1 L130.0,255.7 L130.4,255.4 L130.9,255.1 L131.5,254.9 L132.2,254.8 L133.0,254.7 L133.8,254.6 L134.5,254.6 L135.1,254.6 L135.6,254.7 L136.1,254.7 L136.6,254.6 L137.1,254.4 L137.7,254.1 L138.2,253.7 L138.8,253.2 L139.4,252.5 L139.9,251.6 L140.5,250.7 L141.0,249.8 L141.5,249.0 L142.0,248.1 L142.5,247.3 L142.9,246.6 L143.3,246.0 L143.7,245.5 L144.0,245.2 L144.3,244.9 L144.6,244.7 L144.8,244.6 L145.1,244.7 L145.4,244.9 L145.7,245.3 L146.1,245.9 L146.4,246.6 L146.8,247.4 L147.2,248.2 L147.6,249.2 L147.9,250.3 L148.3,251.7 L148.7,253.5 L149.0,255.7 L149.3,258.0 L149.7,260.5 L150.1,263.1 L150.4,265.9 L150.8,268.7 L151.2,271.4 L151.5,274.0 L151.9,276.6 L152.2,279.1 L152.6,281.5 L153.1,283.7 L153.6,285.7 L154.1,287.7 L154.6,290.0 L155.0,292.7 L155.3,295.6 L155.6,298.7 L156.0,301.7 L156.5,304.7 L157.1,307.8 L157.7,310.8 L158.3,313.5 L158.8,316.0 L159.4,318.3 L160.0,320.4 L160.5,322.3 L161.1,324.1 L161.6,325.8 L162.2,327.3 L162.8,328.6 L163.4,329.7 L164.0,330.6 L164.6,331.3 L165.1,331.9 L165.6,332.4 L165.9,332.7 L166.3,332.9 L166.7,332.9 L167.2,332.8 L167.7,332.5 L168.2,332.0 L168.8,331.4 L169.5,330.5 L170.1,329.3 L170.8,328.1 L171.5,326.8 L172.2,325.4 L172.9,323.9 L173.7,322.3 L174.4,320.9 L175.1,319.5 L175.8,318.2 L176.5,317.0 L177.3,315.8 L178.0,314.8 L178.7,313.8 L179.4,312.9 L180.2,312.1 L180.9,311.4 L181.6,310.9 L182.3,310.4 L183.0,309.9 L183.8,309.5 L184.6,309.2 L185.3,308.9 L185.9,308.5 L186.5,308.0 L186.9,307.5 L187.4,307.0 L187.8,306.2 L188.3,305.3 L188.7,304.3 L189.2,303.1 L189.6,301.8 L190.1,300.5 L190.6,299.0 L191.0,297.5 L191.5,296.0 L192.0,294.6 L192.4,293.1 L192.8,291.7" fill="none" stroke="#b2df9a" stroke-width="1.0" stroke-linejoin="round" stroke-linecap="round" />
<path d="M192.4,293.1 L192.8,291.7 L193.2,290.2 L193.6,288.7 L193.9,287.2 L194.2,285.7 L194.5,284.2 L194.8,282.8 L195.1,281.4 L195.4,280.0 L195.8,278.2 L196.3,275.9 L196.8,273.3 L197.4,270.6 L197.9,268.1 L198.3,266.0 L198.7,264.1 L199.1,262.2 L199.5,260.1 L199.9,257.7 L200.3,255.1 L200.7,252.5 L201.1,250.1 L201.5,247.9 L201.9,246.0 L202.2,244.0 L202.5,242.1 L202.9,240.1 L203.3,238.0 L203.7,236.0 L204.0,234.1 L204.4,232.2 L204.8,230.3 L205.2,228.5 L205.5,226.8 L205.9,225.2 L206.2,223.6 L206.6,222.2 L206.9,221.0 L207.3,220.1 L207.7,219.4 L208.0,218.8 L208.4,218.4 L208.6,218.1 L208.8,217.9 L209.0,217.8 L209.3,217.8 L209.7,217.9 L210.1,218.0 L210.6,218.3 L211.0,218.8 L211.3,219.5 L211.6,220.4 L211.9,221.4 L212.2,222.5 L212.5,223.8 L212.8,225.1 L213.1,226.6 L213.4,228.3 L213.6,230.2 L213.9,232.2 L214.2,234.3 L214.5,236.3 L214.7,238.2 L215.0,240.1 L215.2,242.0 L215.5,244.0 L215.7,246.2 L216.0,248.5 L216.3,250.9 L216.6,253.0 L216.8,254.9 L216.9,256.6 L217.1,258.2 L217.3,260.0 L217.4,261.9 L217.6,263.8 L217.8,265.8 L218.0,268.0 L218.2,270.3 L218.4,272.8 L218.7,275.3 L219.0,278.0 L219.2,280.8 L219.5,283.7 L219.8,286.8 L220.2,290.0 L220.5,293.5 L220.9,297.3 L221.3,301.0 L221.7,304.5 L222.0,307.6 L222.3,310.5 L222.7,313.3 L223.1,316.2 L223.5,319.2 L223.9,322.2 L224.4,325.1 L224.9,327.8 L225.3,330.2 L225.8,332.5 L226.3,334.5 L226.8,336.5 L227.3,338.3 L227.8,340.0 L228.4,341.5 L228.9,343.0 L229.4,344.4 L229.8,345.7 L230.3,346.9 L230.8,348.0 L231.4,349.0 L232.0,350.0 L232.7,350.9 L233.4,351.8 L234.1,352.7 L234.8,353.5 L235.6,354.3 L236.4,355.0 L237.3,355.7 L238.3,356.4 L239.4,357.0 L240.4,357.6 L241.4,358.1 L242.3,358.5 L243.3,358.8 L244.4,359.2 L245.7,359.6 L247.2,359.9 L248.7,360.3 L250.4,360.6 L252.2,361.0 L254.2,361.3 L256.2,361.7 L258.4,362.0 L261.0,362.3 L263.9,362.6 L266.6,362.8 L268.4,363.0" fill="none" stroke="#b2df9a" stroke-width="1.0" stroke-linejoin="round" stroke-linecap="round" stroke-opacity="0.85"/>
<rect x="312.6" y="203.5" width="225.89999999999998" height="160.2" fill="none" stroke="#1a1a1a" stroke-width="1.0"/>
<line x1="310.1" y1="363.8" x2="312.6" y2="363.8" stroke="#000" stroke-width="1.0"/><line x1="310.1" y1="334.6" x2="312.6" y2="334.6" stroke="#000" stroke-width="1.0"/><line x1="310.1" y1="305.4" x2="312.6" y2="305.4" stroke="#000" stroke-width="1.0"/><line x1="310.1" y1="276.2" x2="312.6" y2="276.2" stroke="#000" stroke-width="1.0"/><line x1="310.1" y1="247.0" x2="312.6" y2="247.0" stroke="#000" stroke-width="1.0"/><line x1="310.1" y1="217.8" x2="312.6" y2="217.8" stroke="#000" stroke-width="1.0"/>
<line x1="311.20000000000005" y1="349.2" x2="312.6" y2="349.2" stroke="#000" stroke-width="1.0"/><line x1="311.20000000000005" y1="320.0" x2="312.6" y2="320.0" stroke="#000" stroke-width="1.0"/><line x1="311.20000000000005" y1="290.8" x2="312.6" y2="290.8" stroke="#000" stroke-width="1.0"/><line x1="311.20000000000005" y1="261.6" x2="312.6" y2="261.6" stroke="#000" stroke-width="1.0"/><line x1="311.20000000000005" y1="232.4" x2="312.6" y2="232.4" stroke="#000" stroke-width="1.0"/>
<line x1="312.2" y1="363.7" x2="312.2" y2="366.2" stroke="#000" stroke-width="1.0"/><line x1="344.5" y1="363.7" x2="344.5" y2="366.2" stroke="#000" stroke-width="1.0"/><line x1="376.8" y1="363.7" x2="376.8" y2="366.2" stroke="#000" stroke-width="1.0"/><line x1="409.1" y1="363.7" x2="409.1" y2="366.2" stroke="#000" stroke-width="1.0"/><line x1="441.4" y1="363.7" x2="441.4" y2="366.2" stroke="#000" stroke-width="1.0"/><line x1="473.8" y1="363.7" x2="473.8" y2="366.2" stroke="#000" stroke-width="1.0"/><line x1="506.1" y1="363.7" x2="506.1" y2="366.2" stroke="#000" stroke-width="1.0"/><line x1="538.4" y1="363.7" x2="538.4" y2="366.2" stroke="#000" stroke-width="1.0"/>
<line x1="328.4" y1="363.7" x2="328.4" y2="365.09999999999997" stroke="#000" stroke-width="1.0"/><line x1="360.7" y1="363.7" x2="360.7" y2="365.09999999999997" stroke="#000" stroke-width="1.0"/><line x1="393.0" y1="363.7" x2="393.0" y2="365.09999999999997" stroke="#000" stroke-width="1.0"/><line x1="425.3" y1="363.7" x2="425.3" y2="365.09999999999997" stroke="#000" stroke-width="1.0"/><line x1="457.6" y1="363.7" x2="457.6" y2="365.09999999999997" stroke="#000" stroke-width="1.0"/><line x1="489.9" y1="363.7" x2="489.9" y2="365.09999999999997" stroke="#000" stroke-width="1.0"/><line x1="522.2" y1="363.7" x2="522.2" y2="365.09999999999997" stroke="#000" stroke-width="1.0"/>
<text class="t" x="296.2" y="365.8" font-size="8.1" textLength="10.5" lengthAdjust="spacingAndGlyphs" >0.0</text>
<text class="t" x="296.2" y="336.6" font-size="8.1" textLength="10.5" lengthAdjust="spacingAndGlyphs" >0.2</text>
<text class="t" x="296.2" y="307.4" font-size="8.1" textLength="10.5" lengthAdjust="spacingAndGlyphs" >0.4</text>
<text class="t" x="296.2" y="278.2" font-size="8.1" textLength="10.5" lengthAdjust="spacingAndGlyphs" >0.6</text>
<text class="t" x="296.2" y="249.0" font-size="8.1" textLength="10.5" lengthAdjust="spacingAndGlyphs" >0.8</text>
<text class="t" x="296.2" y="219.8" font-size="8.1" textLength="10.5" lengthAdjust="spacingAndGlyphs" >1.0</text>
<text class="t" x="305.4" y="373.6" font-size="8.0" textLength="13.6" lengthAdjust="spacingAndGlyphs" >300</text>
<text class="t" x="337.7" y="373.6" font-size="8.0" textLength="13.6" lengthAdjust="spacingAndGlyphs" >400</text>
<text class="t" x="370.0" y="373.6" font-size="8.0" textLength="13.6" lengthAdjust="spacingAndGlyphs" >500</text>
<text class="t" x="402.3" y="373.6" font-size="8.0" textLength="13.6" lengthAdjust="spacingAndGlyphs" >600</text>
<text class="t" x="434.6" y="373.6" font-size="8.0" textLength="13.6" lengthAdjust="spacingAndGlyphs" >700</text>
<text class="t" x="466.9" y="373.6" font-size="8.0" textLength="13.6" lengthAdjust="spacingAndGlyphs" >800</text>
<text class="t" x="499.3" y="373.6" font-size="8.0" textLength="13.6" lengthAdjust="spacingAndGlyphs" >900</text>
<text class="t" x="529.9" y="373.6" font-size="8.0" textLength="17.0" lengthAdjust="spacingAndGlyphs" >1000</text>
<text class="t" x="384.6" y="384.8" font-size="9.1" textLength="81.7" lengthAdjust="spacingAndGlyphs" >Wavelength (nm)</text>
<g transform="translate(291.1,344.5) rotate(-90) scale(1,1.14)"><text class="t" x="0" y="0" font-size="8.9" textLength="121.0" lengthAdjust="spacingAndGlyphs">Normalized Absorption (a.u.)</text></g>
<text class="s" x="284.0" y="209.8" font-size="11.6" textLength="15.6" lengthAdjust="spacingAndGlyphs">(d)</text>
<line x1="316" y1="211.5" x2="331" y2="211.5" stroke="#27b3ee" stroke-width="1.1"/>
<line x1="316" y1="221.9" x2="331" y2="221.9" stroke="#ea5a70" stroke-width="1.9"/>
<line x1="316" y1="232.5" x2="331" y2="232.5" stroke="#b2df9a" stroke-width="1"/>
<text class="t" x="333.0" y="213.2" font-size="8.2" textLength="44.6" lengthAdjust="spacingAndGlyphs" >PM6:PY-IT</text>
<text class="t" x="334.2" y="223.5" font-size="8.2" textLength="96.8" lengthAdjust="spacingAndGlyphs" >PM6:PY-IT/PNDIT-F3N</text>
<text class="t" x="334.2" y="233.6" font-size="8.2" textLength="76.4" lengthAdjust="spacingAndGlyphs" >PM6:PY-IT/PDINN</text>
<path d="M312.6,313.0 L313.2,313.4 L314.1,314.0 L315.1,314.6 L316.0,315.0 L316.8,315.3 L317.5,315.6 L318.3,315.8 L319.0,315.6 L319.8,315.1 L320.5,314.2 L321.2,313.2 L322.0,312.0 L322.8,310.7 L323.5,309.1 L324.2,307.6 L325.0,306.0 L325.8,304.5 L326.5,302.9 L327.3,301.4 L328.0,300.0 L328.7,298.7 L329.4,297.5 L330.0,296.4 L330.6,295.6 L331.1,294.9 L331.6,294.4 L332.1,294.2 L332.6,294.4 L333.1,295.1 L333.6,296.1 L334.1,297.5 L334.6,299.0 L335.1,300.8 L335.6,302.9 L336.1,305.0 L336.6,307.0 L337.1,308.9 L337.6,310.8 L338.1,312.5 L338.6,314.0 L339.1,315.2 L339.6,316.1 L340.1,316.9 L340.6,317.6 L341.1,318.2 L341.6,318.6 L342.1,318.9 L342.6,319.0 L343.2,318.9 L343.7,318.7 L344.3,318.2 L345.0,317.6 L345.7,316.7 L346.5,315.6 L347.2,314.3 L348.0,313.0 L348.8,311.6 L349.5,310.0 L350.2,308.5 L351.0,307.0 L351.8,305.7 L352.5,304.5 L353.2,303.3 L354.0,302.0 L354.8,300.6 L355.5,299.2 L356.2,297.8 L357.0,296.4 L357.8,295.2 L358.5,294.0 L359.2,292.8 L360.0,291.4 L360.7,289.8 L361.5,288.1 L362.2,286.3 L363.0,284.4 L363.9,282.2 L364.8,279.9 L365.6,277.6 L366.5,275.4 L367.3,273.5 L368.0,271.7 L368.8,270.0 L369.5,268.4 L370.2,267.0 L371.0,265.6 L371.7,264.4 L372.4,263.3 L373.1,262.3 L373.8,261.4 L374.6,260.5 L375.3,259.7 L376.0,258.9 L376.8,258.2 L377.5,257.5 L378.2,256.8 L378.9,256.0 L379.7,255.2 L380.4,254.3 L381.1,253.6 L381.7,252.9 L382.3,252.4 L382.8,251.9 L383.3,251.5 L383.8,251.3 L384.2,251.2 L384.6,251.2 L385.0,251.2 L385.5,251.3 L385.9,251.4 L386.4,251.6 L386.9,251.9 L387.4,252.5 L388.0,253.2 L388.5,254.0 L389.1,254.8 L389.7,255.5 L390.2,256.3 L390.8,257.1 L391.3,257.8 L391.8,258.5 L392.3,259.2 L392.8,259.8 L393.2,260.3 L393.6,260.7 L393.9,261.2 L394.2,261.4 L394.6,261.4 L395.0,261.0 L395.5,260.2 L395.9,259.3 L396.4,258.4 L396.9,257.4 L397.4,256.3 L397.9,255.1 L398.4,254.0 L398.9,253.0 L399.4,252.1 L400.0,251.1 L400.5,250.3 L401.0,249.4 L401.5,248.7 L402.0,247.9 L402.5,247.3 L403.0,246.7 L403.6,246.2 L404.1,245.8 L404.6,245.3 L405.1,244.9 L405.7,244.5 L406.2,244.1 L406.8,243.6 L407.3,243.0 L407.9,242.3 L408.4,241.6 L409.0,240.7 L409.6,239.7 L410.2,238.6 L410.7,237.5 L411.3,236.4 L411.9,235.3 L412.4,234.2 L412.9,233.1 L413.4,232.2 L413.9,231.4 L414.3,230.7 L414.6,230.2 L415.0,229.8 L415.4,229.5 L415.7,229.4 L416.0,229.4 L416.4,229.4 L416.8,229.3 L417.1,229.2 L417.5,229.3 L417.9,229.7 L418.3,230.4 L418.6,231.4 L418.9,232.7 L419.3,234.3 L419.7,236.2 L420.0,238.5 L420.4,241.0 L420.8,243.6 L421.2,246.3 L421.6,249.2 L421.9,252.2 L422.3,255.1 L422.7,258.0 L423.0,261.0 L423.4,263.9 L423.7,266.5 L424.0,268.9 L424.2,271.1 L424.4,273.1 L424.7,275.0 L425.1,276.6 L425.5,278.0 L426.0,279.4 L426.4,281.1 L426.8,283.1 L427.2,285.4 L427.6,287.7 L428.0,290.1 L428.5,292.6 L429.0,295.2 L429.5,297.8 L430.0,300.2 L430.5,302.6 L431.0,305.0 L431.5,307.2 L432.0,309.3 L432.5,311.2 L433.0,312.9 L433.5,314.4 L434.0,315.6 L434.5,316.8 L435.0,317.7 L435.5,318.3 L436.0,318.6 L436.5,318.5 L436.9,318.0 L437.4,317.2 L438.0,316.2 L438.7,315.0 L439.4,313.5 L440.2,311.8 L441.0,310.3 L441.8,308.8 L442.5,307.3 L443.2,305.9 L444.0,304.7 L444.8,303.5 L445.5,302.4 L446.2,301.4 L447.0,300.6 L447.8,300.0 L448.5,299.4 L449.2,299.0 L450.0,298.6 L450.8,298.2 L451.5,297.9 L452.2,297.6 L453.0,297.1 L453.8,296.6 L454.5,295.9 L455.2,295.1 L456.0,294.1 L456.8,292.9 L457.5,291.5 L458.3,289.9 L459.0,288.1 L459.7,286.1 L460.4,283.9 L461.1,281.5 L461.8,279.0" fill="none" stroke="#27b3ee" stroke-width="1.2" stroke-linejoin="round" stroke-linecap="round" />
<path d="M461.8,279.0 L462.5,276.4 L463.1,273.5 L463.7,270.6 L464.3,268.0 L464.8,265.9 L465.3,264.0 L465.7,262.2 L466.2,260.0 L466.7,257.4 L467.3,254.5 L467.8,251.5 L468.4,248.6 L468.9,245.8 L469.5,243.0 L470.0,240.3 L470.5,237.7 L471.0,235.2 L471.6,232.7 L472.1,230.4 L472.6,228.3 L473.0,226.4 L473.4,224.6 L473.8,223.0 L474.2,221.7 L474.6,220.7 L474.9,219.9 L475.3,219.3 L475.6,218.8 L475.9,218.4 L476.1,218.2 L476.4,218.1 L476.7,218.1 L477.0,218.1 L477.4,218.1 L477.8,218.3 L478.2,218.8 L478.6,219.6 L478.9,220.5 L479.2,221.8 L479.6,223.2 L480.0,224.9 L480.4,226.7 L480.7,228.9 L481.1,231.2 L481.5,233.9 L481.8,236.9 L482.2,239.9 L482.5,242.8 L482.8,245.5 L483.1,248.2 L483.4,250.7 L483.7,253.0 L483.9,254.9 L484.0,256.5 L484.2,258.1 L484.4,260.0 L484.7,262.1 L485.0,264.4 L485.3,267.0 L485.6,270.0 L485.9,273.6 L486.3,277.6 L486.6,281.9 L487.0,286.0 L487.3,290.0 L487.7,294.1 L488.0,298.1 L488.4,302.0 L488.8,305.9 L489.2,309.8 L489.6,313.5 L490.0,317.0 L490.4,320.3 L490.9,323.3 L491.4,326.2 L491.8,329.0 L492.4,331.7 L492.9,334.2 L493.4,336.6 L494.0,338.8 L494.5,340.8 L495.0,342.5 L495.5,344.1 L496.1,345.6 L496.7,347.2 L497.3,348.7 L497.9,350.1 L498.6,351.4 L499.3,352.6 L500.1,353.8 L500.9,354.9 L501.7,355.8 L502.4,356.6 L503.2,357.3 L504.0,357.9 L504.8,358.5 L505.6,359.1 L506.5,359.7 L507.4,360.2 L508.5,360.7 L509.7,361.1 L511.0,361.5 L512.4,361.8 L514.0,362.1 L515.6,362.3 L517.3,362.5 L519.4,362.6 L522.0,362.8 L525.8,363.0 L530.5,363.2 L534.9,363.4 L538.0,363.6" fill="none" stroke="#27b3ee" stroke-width="0.9" stroke-linejoin="round" stroke-linecap="round" stroke-opacity="0.85"/>
<path d="M312.6,312.0 L313.0,312.5 L313.6,313.2 L314.3,314.0 L315.0,314.4 L315.7,314.5 L316.5,314.4 L317.2,314.1 L318.0,313.6 L318.8,312.9 L319.5,312.1 L320.2,311.1 L321.0,310.0 L321.8,308.9 L322.5,307.6 L323.2,306.4 L324.0,305.0 L324.8,303.6 L325.5,302.1 L326.2,300.5 L327.0,299.0 L327.8,297.4 L328.6,295.8 L329.3,294.3 L330.0,293.0 L330.6,291.9 L331.1,290.8 L331.5,290.1 L332.0,289.6 L332.5,289.5 L333.0,289.7 L333.5,290.1 L334.0,291.0 L334.5,292.4 L335.0,294.1 L335.5,296.1 L336.0,298.0 L336.5,299.8 L337.0,301.7 L337.5,303.5 L338.0,305.0 L338.5,306.3 L339.0,307.3 L339.5,308.3 L340.0,309.0 L340.6,309.6 L341.3,310.0 L341.9,310.3 L342.6,310.4 L343.2,310.3 L343.8,310.0 L344.4,309.6 L345.0,309.0 L345.7,308.3 L346.5,307.4 L347.2,306.5 L348.0,305.6 L348.8,304.8 L349.5,304.0 L350.2,303.2 L351.0,302.4 L351.8,301.7 L352.5,301.0 L353.2,300.3 L354.0,299.6 L354.8,298.8 L355.5,297.9 L356.2,297.0 L357.0,296.0 L357.8,294.9 L358.5,293.7 L359.2,292.4 L360.0,291.0 L360.7,289.4 L361.5,287.8 L362.2,285.9 L363.0,284.0 L363.9,281.8 L364.8,279.5 L365.6,277.2 L366.5,275.0 L367.3,273.1 L368.0,271.3 L368.8,269.6 L369.5,268.0 L370.2,266.6 L371.0,265.2 L371.7,264.0 L372.4,262.9 L373.1,261.9 L373.8,261.0 L374.6,260.1 L375.3,259.3 L376.0,258.5 L376.8,257.8 L377.5,257.1 L378.2,256.4 L378.9,255.6 L379.7,254.8 L380.4,253.9 L381.1,253.2 L381.7,252.5 L382.3,251.9 L382.8,251.4 L383.3,251.0 L383.8,250.7 L384.2,250.4 L384.6,250.3 L385.0,250.3 L385.5,250.4 L385.9,250.6 L386.4,250.9 L386.9,251.3 L387.4,251.9 L388.0,252.6 L388.5,253.4 L389.1,254.2 L389.7,254.9 L390.2,255.7 L390.8,256.4 L391.3,257.1 L391.8,257.7 L392.3,258.2 L392.8,258.6 L393.2,259.0 L393.6,259.3 L393.9,259.6 L394.2,259.7 L394.6,259.6 L395.0,259.3 L395.5,258.8 L395.9,258.2 L396.4,257.5 L396.9,256.6 L397.4,255.6 L398.0,254.5 L398.5,253.5 L399.0,252.5 L399.6,251.6 L400.1,250.7 L400.7,249.8 L401.2,249.0 L401.8,248.2 L402.3,247.5 L402.9,246.9 L403.4,246.4 L404.0,245.9 L404.6,245.4 L405.1,245.0 L405.7,244.6 L406.2,244.2 L406.8,243.8 L407.3,243.3 L407.9,242.7 L408.4,242.0 L409.0,241.3 L409.5,240.4 L410.0,239.4 L410.6,238.3 L411.1,237.1 L411.6,236.0 L412.1,234.9 L412.6,233.7 L413.1,232.6 L413.5,231.6 L413.9,230.7 L414.3,229.8 L414.6,229.0 L415.0,228.4 L415.4,227.9 L415.7,227.4 L416.0,227.1 L416.4,227.0 L416.8,227.1 L417.1,227.3 L417.5,227.7 L417.9,228.4 L418.3,229.4 L418.6,230.6 L418.9,232.1 L419.3,233.8 L419.7,235.8 L420.0,238.2 L420.4,240.7 L420.8,243.3 L421.2,246.1 L421.6,249.0 L421.9,252.0 L422.3,254.9 L422.7,257.9 L423.0,260.9 L423.4,263.8 L423.7,266.5 L424.0,268.9 L424.2,271.1 L424.4,273.1 L424.7,275.0 L425.1,276.6 L425.5,278.0 L426.0,279.3 L426.4,281.0 L426.8,283.0 L427.2,285.2 L427.6,287.6 L428.0,290.0 L428.5,292.5 L429.0,295.0 L429.5,297.5 L430.0,300.0 L430.5,302.4 L431.0,304.8 L431.5,307.0 L432.0,309.0 L432.5,310.8 L433.0,312.4 L433.5,313.8 L434.0,315.0 L434.5,316.0 L435.0,316.8 L435.5,317.4 L436.0,317.6 L436.5,317.5 L436.9,317.1 L437.4,316.5 L438.0,315.6 L438.7,314.5 L439.4,313.0 L440.2,311.5 L441.0,310.0 L441.8,308.6 L442.5,307.1 L443.2,305.7 L444.0,304.4 L444.8,303.2 L445.5,302.2 L446.2,301.2 L447.0,300.4 L447.8,299.7 L448.5,299.2 L449.2,298.8 L450.0,298.4 L450.8,298.0 L451.5,297.8 L452.2,297.4 L453.0,297.0 L453.8,296.4 L454.5,295.8 L455.2,295.0 L456.0,294.0 L456.8,292.8 L457.5,291.4 L458.3,289.8 L459.0,288.0 L459.7,286.0 L460.4,283.8 L461.1,281.5 L461.8,279.0" fill="none" stroke="#e74460" stroke-width="1.35" stroke-linejoin="round" stroke-linecap="round" />
<path d="M461.8,279.0 L462.5,276.3 L463.1,273.4 L463.7,270.6 L464.3,268.0 L464.8,265.9 L465.3,264.0 L465.7,262.2 L466.2,260.0 L466.7,257.4 L467.3,254.5 L467.8,251.5 L468.4,248.6 L468.9,245.8 L469.5,243.0 L470.0,240.3 L470.5,237.7 L471.0,235.2 L471.6,232.7 L472.1,230.4 L472.6,228.3 L473.0,226.4 L473.4,224.6 L473.8,223.0 L474.2,221.7 L474.6,220.7 L474.9,219.9 L475.3,219.3 L475.6,218.8 L475.9,218.4 L476.1,218.2 L476.4,218.1 L476.7,218.1 L477.0,218.1 L477.4,218.1 L477.8,218.3 L478.2,218.8 L478.6,219.6 L478.9,220.5 L479.2,221.8 L479.6,223.2 L480.0,224.9 L480.4,226.7 L480.7,228.9 L481.1,231.2 L481.5,233.9 L481.8,236.9 L482.2,239.9 L482.5,242.8 L482.8,245.5 L483.1,248.2 L483.4,250.7 L483.7,253.0 L483.9,254.9 L484.0,256.5 L484.2,258.1 L484.4,260.0 L484.7,262.1 L485.0,264.4 L485.3,267.0 L485.6,270.0 L485.9,273.6 L486.3,277.6 L486.6,281.9 L487.0,286.0 L487.3,290.0 L487.7,294.1 L488.0,298.1 L488.4,302.0 L488.8,305.9 L489.2,309.8 L489.6,313.5 L490.0,317.0 L490.4,320.3 L490.8,323.3 L491.2,326.2 L491.6,329.0 L492.1,331.7 L492.6,334.3 L493.1,336.8 L493.6,339.0 L494.1,341.0 L494.6,342.8 L495.1,344.4 L495.6,346.0 L496.2,347.6 L496.7,349.2 L497.3,350.6 L498.0,352.0 L498.7,353.3 L499.5,354.5 L500.2,355.6 L501.0,356.6 L501.7,357.4 L502.4,358.2 L503.2,358.8 L504.0,359.4 L504.9,360.0 L505.8,360.5 L506.8,361.0 L508.0,361.4 L509.3,361.7 L510.8,362.0 L512.3,362.2 L514.0,362.4 L515.7,362.6 L517.4,362.7 L519.4,362.9 L522.0,363.0 L525.8,363.2 L530.5,363.3 L534.9,363.5 L538.0,363.6" fill="none" stroke="#e74460" stroke-width="0.85" stroke-linejoin="round" stroke-linecap="round" stroke-opacity="0.85"/>
<path d="M312.6,315.0 L313.2,315.2 L314.1,315.5 L315.1,315.7 L316.0,315.6 L316.8,315.2 L317.5,314.6 L318.3,313.8 L319.0,313.0 L319.8,312.1 L320.5,311.1 L321.2,310.1 L322.0,309.0 L322.8,307.8 L323.5,306.6 L324.2,305.3 L325.0,304.0 L325.8,302.7 L326.5,301.4 L327.3,300.2 L328.0,299.0 L328.7,297.9 L329.4,296.8 L330.0,295.8 L330.6,295.0 L331.1,294.4 L331.5,294.0 L332.0,293.8 L332.4,294.0 L332.9,294.6 L333.3,295.5 L333.9,296.8 L334.4,298.5 L335.0,300.8 L335.7,303.7 L336.4,306.6 L337.0,309.0 L337.5,310.9 L338.0,312.5 L338.5,313.8 L339.0,315.0 L339.5,316.0 L340.0,316.8 L340.5,317.5 L341.0,318.0 L341.5,318.5 L341.9,318.9 L342.4,319.1 L343.0,319.0 L343.7,318.6 L344.4,317.9 L345.2,317.1 L346.0,316.0 L346.8,314.7 L347.5,313.2 L348.2,311.5 L349.0,310.0 L349.8,308.6 L350.5,307.1 L351.2,305.7 L352.0,304.4 L352.8,303.1 L353.5,301.9 L354.3,300.7 L355.0,299.6 L355.6,298.6 L356.2,297.8 L356.8,297.0 L357.4,296.0 L358.0,294.9 L358.5,293.7 L359.1,292.4 L359.7,291.0 L360.3,289.4 L361.0,287.8 L361.7,285.9 L362.4,284.0 L363.2,281.8 L364.0,279.5 L364.8,277.2 L365.6,275.0 L366.4,273.1 L367.1,271.3 L367.9,269.6 L368.6,268.0 L369.4,266.6 L370.1,265.2 L370.9,264.0 L371.6,262.9 L372.3,261.9 L373.1,261.0 L373.8,260.1 L374.5,259.3 L375.3,258.5 L376.0,257.8 L376.7,257.1 L377.5,256.4 L378.2,255.6 L379.0,254.8 L379.8,254.0 L380.6,253.3 L381.2,252.7 L381.9,252.1 L382.5,251.6 L383.1,251.3 L383.6,251.0 L384.1,250.8 L384.5,250.7 L385.0,250.7 L385.5,250.8 L385.9,251.0 L386.4,251.3 L386.9,251.7 L387.4,252.3 L388.0,253.0 L388.5,253.8 L389.1,254.6 L389.7,255.3 L390.2,256.1 L390.8,256.8 L391.3,257.5 L391.8,258.1 L392.3,258.8 L392.8,259.3 L393.2,259.8 L393.6,260.2 L393.9,260.6 L394.2,260.8 L394.6,260.8 L395.0,260.4 L395.5,259.8 L395.9,259.0 L396.4,258.1 L396.9,257.1 L397.4,256.1 L398.0,255.0 L398.5,253.9 L399.0,252.9 L399.6,252.0 L400.1,251.1 L400.7,250.2 L401.2,249.4 L401.8,248.7 L402.3,248.0 L402.9,247.4 L403.4,246.8 L404.0,246.4 L404.6,245.9 L405.1,245.5 L405.7,245.1 L406.2,244.8 L406.8,244.4 L407.3,244.0 L407.9,243.4 L408.4,242.8 L409.0,242.1 L409.5,241.2 L410.0,240.3 L410.6,239.2 L411.1,238.1 L411.6,237.0 L412.1,235.9 L412.6,234.8 L413.1,233.7 L413.5,232.8 L413.9,232.0 L414.3,231.4 L414.6,230.9 L415.0,230.6 L415.3,230.5 L415.7,230.5 L416.0,230.6 L416.4,230.6 L416.8,230.4 L417.3,230.1 L417.8,229.9 L418.2,230.1 L418.6,230.7 L419.0,231.6 L419.4,232.8 L419.7,234.4 L420.1,236.2 L420.5,238.4 L420.9,240.8 L421.3,243.3 L421.7,246.0 L422.1,248.9 L422.4,251.9 L422.8,254.9 L423.2,257.9 L423.5,260.9 L423.9,263.8 L424.2,266.5 L424.5,268.9 L424.7,271.1 L424.9,273.1 L425.2,275.0 L425.6,276.6 L426.0,278.0 L426.5,279.4 L426.9,281.0 L427.3,283.1 L427.6,285.3 L428.0,287.7 L428.4,290.1 L428.9,292.6 L429.4,295.2 L429.9,297.8 L430.4,300.3 L430.9,302.7 L431.3,305.1 L431.8,307.3 L432.3,309.4 L432.8,311.3 L433.2,313.0 L433.7,314.6 L434.1,315.9 L434.6,317.0 L435.1,318.0 L435.5,318.7 L436.0,319.0 L436.5,318.9 L436.9,318.3 L437.4,317.5 L438.0,316.5 L438.7,315.2 L439.4,313.6 L440.2,312.0 L441.0,310.4 L441.8,308.9 L442.5,307.4 L443.2,306.0 L444.0,304.7 L444.8,303.6 L445.5,302.5 L446.2,301.5 L447.0,300.7 L447.8,300.0 L448.5,299.5 L449.2,299.1 L450.0,298.6 L450.8,298.3 L451.5,298.0 L452.2,297.7 L453.0,297.2 L453.8,296.6 L454.5,296.0 L455.2,295.2 L456.0,294.1 L456.8,292.9 L457.5,291.5 L458.3,289.9 L459.0,288.1 L459.7,286.1 L460.4,283.9 L461.1,281.5 L461.8,279.1" fill="none" stroke="#b2df9a" stroke-width="1.0" stroke-linejoin="round" stroke-linecap="round" />
<path d="M461.8,279.1 L462.5,276.4 L463.1,273.5 L463.7,270.6 L464.3,268.0 L464.8,265.9 L465.3,264.0 L465.7,262.2 L466.2,260.0 L466.7,257.4 L467.3,254.5 L467.8,251.5 L468.4,248.6 L468.9,245.8 L469.5,243.0 L470.0,240.3 L470.5,237.7 L471.0,235.2 L471.6,232.7 L472.1,230.4 L472.6,228.3 L473.1,226.4 L473.5,224.6 L473.9,223.0 L474.2,221.7 L474.6,220.7 L475.0,219.9 L475.3,219.3 L475.7,218.8 L476.0,218.4 L476.2,218.2 L476.5,218.1 L476.8,218.1 L477.1,218.1 L477.5,218.1 L477.9,218.3 L478.3,218.8 L478.6,219.6 L479.0,220.5 L479.3,221.8 L479.7,223.2 L480.1,224.9 L480.5,226.7 L480.8,228.9 L481.2,231.2 L481.6,233.9 L482.0,236.9 L482.3,239.9 L482.6,242.8 L483.0,245.5 L483.3,248.2 L483.6,250.7 L483.9,253.0 L484.1,254.9 L484.2,256.5 L484.4,258.1 L484.6,260.0 L484.8,262.1 L485.1,264.4 L485.4,267.0 L485.8,270.0 L486.1,273.6 L486.5,277.6 L486.8,281.9 L487.2,286.0 L487.5,290.0 L487.9,294.1 L488.3,298.1 L488.6,302.0 L489.1,305.9 L489.5,309.8 L490.0,313.5 L490.4,317.0 L490.8,320.3 L491.3,323.3 L491.7,326.2 L492.2,329.0 L492.7,331.7 L493.2,334.2 L493.8,336.5 L494.4,338.7 L494.9,340.6 L495.4,342.2 L496.0,343.8 L496.6,345.3 L497.2,346.8 L497.8,348.2 L498.5,349.5 L499.2,350.8 L499.9,352.0 L500.7,353.2 L501.5,354.4 L502.3,355.3 L503.0,356.2 L503.8,356.9 L504.5,357.5 L505.4,358.1 L506.3,358.6 L507.3,359.1 L508.3,359.6 L509.5,360.0 L510.7,360.4 L512.0,360.8 L513.5,361.1 L515.0,361.4 L516.5,361.7 L518.1,361.9 L520.0,362.2 L522.5,362.5 L526.1,362.8 L530.7,363.1 L535.1,363.3 L538.0,363.5" fill="none" stroke="#b2df9a" stroke-width="1.0" stroke-linejoin="round" stroke-linecap="round" stroke-opacity="0.85"/>
</svg>
</body></html>
